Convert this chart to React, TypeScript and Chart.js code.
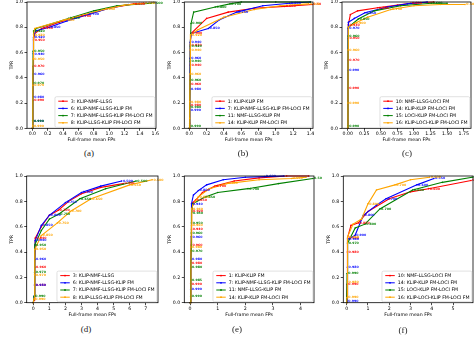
import React, { useEffect, useRef } from 'react';
import { Chart, registerables } from 'chart.js';
Chart.register(...registerables);

type Pt = [number, number, string?];

const RED = '#ff0000', BLUE = '#0000ff', GREEN = '#008000', ORANGE = '#ffa500';
const COLORS = [RED, BLUE, GREEN, ORANGE];

const Y_TICKS = [0, 0.2, 0.4, 0.6, 0.8, 1.0];
const Y_TICK_LABELS = ['0.0', '0.2', '0.4', '0.6', '0.8', '1.0'];
const X_TITLE = 'Full-frame mean FPs';
const Y_TITLE = 'TPR';

// ---------- Panel (a) ----------
const namesA = ['3: KLIP-NMF-LLSG', '6: KLIP-NMF-LLSG-KLIP FM', '7: KLIP-NMF-LLSG-KLIP FM-LOCI FM', '8: KLIP-LLSG-KLIP FM-LOCI FM'];
const xTicksA = [0, 0.2, 0.4, 0.6, 0.8, 1.0, 1.2, 1.4, 1.6];
const xTickLabelsA = ['0.0', '0.2', '0.4', '0.6', '0.8', '1.0', '1.2', '1.4', '1.6'];
const a3: Pt[] = [[0, 0], [0.004, 0.05], [0.008, 0.22, '0.990'], [0.01, 0.49, '0.970'], [0.015, 0.70, '0.950'], [0.03, 0.75], [0.12, 0.79, '0.900'], [0.35, 0.84], [0.62, 0.885, '0.700'], [1.0, 0.95], [1.32, 0.985, '0.500'], [1.45, 0.99]];
const a6: Pt[] = [[0, 0], [0.004, 0.06, '0.990'], [0.008, 0.25, '0.980'], [0.01, 0.43, '0.960'], [0.012, 0.59, '0.940'], [0.015, 0.72, '0.920'], [0.04, 0.77], [0.22, 0.80, '0.850'], [0.45, 0.85], [0.72, 0.90, '0.700'], [1.0, 0.95], [1.25, 0.98]];
const a7: Pt[] = [[0, 0], [0.004, 0.06, '0.990'], [0.008, 0.36, '0.970'], [0.01, 0.61, '0.950'], [0.015, 0.77, '0.920'], [0.05, 0.79], [0.47, 0.87, '0.750'], [0.8, 0.93], [1.1, 0.97], [1.55, 0.99, '0.500']];
const a8: Pt[] = [[0, 0], [0.004, 0.02, '0.990'], [0.008, 0.34, '0.970'], [0.01, 0.55, '0.950'], [0.015, 0.74, '0.920'], [0.03, 0.79], [0.40, 0.855, '0.800'], [0.93, 0.94, '0.650'], [1.2, 0.975], [1.45, 0.99, '0.500']];

// ---------- Panel (b) ----------
const namesB = ['1: KLIP-KLIP FM', '7: KLIP-NMF-LLSG-KLIP FM-LOCI FM', '11: NMF-LLSG-KLIP FM', '14: KLIP-KLIP FM-LOCI FM'];
const xTicksB = [0, 0.2, 0.4, 0.6, 0.8, 1.0, 1.2, 1.4];
const xTickLabelsB = ['0.0', '0.2', '0.4', '0.6', '0.8', '1.0', '1.2', '1.4'];
const b1: Pt[] = [[0, 0], [0.004, 0.04], [0.006, 0.18, '0.980'], [0.008, 0.35, '0.960'], [0.01, 0.50, '0.940'], [0.012, 0.66, '0.920'], [0.02, 0.75, '0.900'], [0.2, 0.87], [0.45, 0.92], [0.75, 0.95], [1.1, 0.965, '0.600'], [1.42, 0.98, '0.500']];
const b7: Pt[] = [[0, 0], [0.004, 0.145, '0.990'], [0.006, 0.31, '0.980'], [0.008, 0.555, '0.960'], [0.01, 0.68, '0.940'], [0.02, 0.75], [0.22, 0.79, '0.850'], [0.35, 0.86], [0.55, 0.92, '0.750'], [0.85, 0.97], [1.16, 0.99, '0.600'], [1.4, 1.0]];
const b11: Pt[] = [[0, 0], [0.004, 0.02, '0.990'], [0.006, 0.17, '0.980'], [0.008, 0.38, '0.960'], [0.01, 0.53, '0.940'], [0.012, 0.65, '0.920'], [0.02, 0.83, '0.900'], [0.05, 0.92], [0.3, 0.96, '0.800'], [0.47, 0.985, '0.700'], [0.6, 1.0], [1.0, 1.0], [1.4, 1.0]];
const b14: Pt[] = [[0, 0], [0.004, 0.08], [0.006, 0.21, '0.980'], [0.008, 0.43, '0.960'], [0.01, 0.62, '0.940'], [0.015, 0.74, '0.920'], [0.1, 0.78], [0.4, 0.88], [0.75, 0.94], [1.05, 0.97], [1.38, 0.985, '0.500']];

// ---------- Panel (c) ----------
const namesC = ['10: NMF-LLSG-LOCI FM', '14: KLIP-KLIP FM-LOCI FM', '15: LOCI-KLIP FM-LOCI FM', '16: KLIP-LOCI-KLIP FM-LOCI FM'];
const xTicksC = [0, 0.25, 0.5, 0.75, 1.0, 1.25, 1.5, 1.75];
const xTickLabelsC = ['0.00', '0.25', '0.50', '0.75', '1.00', '1.25', '1.50', '1.75'];
const c10: Pt[] = [[0, 0], [0.004, 0.32, '0.990'], [0.006, 0.54, '0.970'], [0.008, 0.71, '0.950'], [0.01, 0.82, '0.930'], [0.04, 0.9], [0.15, 0.93], [0.45, 0.955, '0.800'], [0.75, 0.975], [0.95, 0.99, '0.600'], [1.3, 1.0]];
const c14: Pt[] = [[0, 0], [0.004, 0.46, '0.990'], [0.006, 0.79, '0.970'], [0.01, 0.84], [0.1, 0.87], [0.26, 0.915, '0.850'], [0.6, 0.96], [0.9, 0.985], [1.2, 1.0]];
const c15: Pt[] = [[0, 0], [0.004, 0.02, '0.990'], [0.006, 0.73, '0.960'], [0.01, 0.80], [0.16, 0.865, '0.850'], [0.4, 0.93], [0.8, 0.97], [1.26, 0.99, '0.600'], [1.5, 0.99]];
const c16: Pt[] = [[0, 0], [0.004, 0.20, '0.990'], [0.006, 0.62, '0.960'], [0.01, 0.80], [0.1, 0.83, '0.900'], [0.3, 0.88], [0.65, 0.94, '0.750'], [1.0, 0.97], [1.4, 0.98], [1.77, 0.98, '0.500']];

// ---------- Panel (d) ----------
const xTicksD = [0, 1, 2, 3, 4, 5, 6, 7];
const xTickLabelsD = ['0', '1', '2', '3', '4', '5', '6', '7'];
const d3: Pt[] = [[0, 0], [0.05, 0.02], [0.08, 0.14, '0.980'], [0.1, 0.28, '0.960'], [0.12, 0.51, '0.940'], [0.5, 0.60], [1.0, 0.69], [1.56, 0.73, '0.700'], [2.2, 0.80], [3.0, 0.86], [4.2, 0.91], [5.6, 0.94, '0.500']];
const d6: Pt[] = [[0, 0], [0.05, 0.05], [0.08, 0.14, '0.980'], [0.1, 0.34, '0.960'], [0.12, 0.49, '0.940'], [0.5, 0.61, '0.850'], [1.0, 0.69, '0.800'], [2.0, 0.79, '0.750'], [3.0, 0.87, '0.700'], [4.2, 0.92], [5.5, 0.96, '0.500']];
const d7: Pt[] = [[0, 0], [0.05, 0.05, '0.990'], [0.08, 0.24, '0.970'], [0.1, 0.455, '0.950'], [0.5, 0.57], [1.0, 0.66], [1.6, 0.70, '0.750'], [2.9, 0.82, '0.650'], [4.5, 0.90], [6.4, 0.96, '0.500']];
const d8: Pt[] = [[0, 0], [0.05, 0.03, '0.990'], [0.08, 0.22, '0.970'], [0.1, 0.42, '0.950'], [0.5, 0.53, '0.850'], [1.5, 0.63, '0.750'], [2.3, 0.72, '0.700'], [3.6, 0.82, '0.650'], [6.0, 0.93, '0.550'], [7.4, 0.97, '0.500']];

// ---------- Panel (e) ----------
const xTicksE = [0, 1, 2, 3, 4];
const xTickLabelsE = ['0', '1', '2', '3', '4'];
const e1: Pt[] = [[0, 0], [0.02, 0.15, '0.990'], [0.03, 0.315, '0.980'], [0.04, 0.455, '0.960'], [0.05, 0.58, '0.940'], [0.06, 0.72, '0.920'], [0.1, 0.79], [0.2, 0.81, '0.850'], [0.45, 0.87], [0.9, 0.92, '0.700'], [1.6, 0.96], [2.5, 0.985], [3.5, 1.0], [4.3, 1.0]];
const e7: Pt[] = [[0, 0], [0.02, 0.105, '0.990'], [0.03, 0.34, '0.980'], [0.04, 0.52, '0.960'], [0.05, 0.78, '0.940'], [0.12, 0.85], [0.3, 0.885, '0.850'], [0.6, 0.93], [1.2, 0.97], [2.0, 0.99], [2.7, 0.995, '0.600'], [3.4, 1.0]];
const e11: Pt[] = [[0, 0], [0.02, 0.05, '0.990'], [0.025, 0.18, '0.985'], [0.03, 0.28, '0.980'], [0.035, 0.41, '0.970'], [0.04, 0.55, '0.960'], [0.05, 0.63, '0.950'], [0.06, 0.71, '0.940'], [0.1, 0.78], [0.5, 0.83, '0.850'], [1.0, 0.87], [2.1, 0.90, '0.700'], [3.2, 0.94], [4.45, 0.98, '0.500']];
const e14: Pt[] = [[0, 0], [0.03, 0.44, '0.980'], [0.05, 0.61, '0.960'], [0.06, 0.74, '0.940'], [0.1, 0.77], [0.3, 0.835, '0.850'], [0.7, 0.9], [1.32, 0.94, '0.700'], [2.5, 0.97], [3.67, 0.98, '0.550'], [4.2, 0.99]];

// ---------- Panel (f) ----------
const xTicksF = [0, 1, 2, 3, 4, 5];
const xTickLabelsF = ['0', '1', '2', '3', '4', '5'];
const f10: Pt[] = [[0, 0], [0.02, 0.145, '0.990'], [0.03, 0.40, '0.980'], [0.04, 0.51, '0.960'], [0.2, 0.61], [0.55, 0.63, '0.850'], [1.0, 0.72], [2.0, 0.82], [3.0, 0.875], [3.85, 0.90, '0.600'], [5.85, 0.965, '0.500']];
const f14: Pt[] = [[0, 0], [0.02, 0.01, '0.990'], [0.03, 0.28, '0.980'], [0.05, 0.50, '0.960'], [0.39, 0.53, '0.900'], [0.78, 0.69, '0.800'], [1.4, 0.77], [1.85, 0.82, '0.700'], [3.3, 0.93, '0.600'], [4.1, 0.98, '0.550']];
const f15: Pt[] = [[0, 0], [0.02, 0.23, '0.990'], [0.04, 0.47, '0.970'], [0.4, 0.59], [0.86, 0.62, '0.800'], [1.56, 0.74, '0.700'], [3.1, 0.89, '0.600'], [4.5, 0.95], [5.9, 0.99, '0.500']];
const f16: Pt[] = [[0, 0], [0.02, 0.04, '0.990'], [0.03, 0.165, '0.980'], [0.05, 0.52, '0.960'], [0.3, 0.62], [0.7, 0.66], [1.0, 0.78, '0.800'], [1.4, 0.89], [2.27, 0.93, '0.700'], [3.0, 0.97], [3.9, 0.99, '0.600']];

interface PanelDef {
  plotL: number; plotT: number; plotR: number; plotB: number;
  xMin: number; xMax: number; xTicks: number[]; xTickLabels: string[];
  series: Pt[][]; names: string[];
  caption: string; capX: number; capY: number;
}

const PANELS: PanelDef[] = [
  { plotL: 27, plotT: 2, plotR: 156, plotB: 128.3, xMin: -0.07, xMax: 1.61, xTicks: xTicksA, xTickLabels: xTickLabelsA, series: [a3, a6, a7, a8], names: namesA, caption: '(a)', capX: 89, capY: 153 },
  { plotL: 184.3, plotT: 2, plotR: 313, plotB: 128.3, xMin: -0.058, xMax: 1.43, xTicks: xTicksB, xTickLabels: xTickLabelsB, series: [b1, b7, b11, b14], names: namesB, caption: '(b)', capX: 243, capY: 153 },
  { plotL: 342, plotT: 2, plotR: 471, plotB: 128.3, xMin: -0.086, xMax: 1.86, xTicks: xTicksC, xTickLabels: xTickLabelsC, series: [c10, c14, c15, c16], names: namesC, caption: '(c)', capX: 407, capY: 153 },
  { plotL: 26.7, plotT: 176, plotR: 158, plotB: 302.7, xMin: -0.41, xMax: 7.76, xTicks: xTicksD, xTickLabels: xTickLabelsD, series: [d3, d6, d7, d8], names: namesA, caption: '(d)', capX: 86, capY: 329 },
  { plotL: 184.3, plotT: 176, plotR: 314, plotB: 302.7, xMin: -0.21, xMax: 4.49, xTicks: xTicksE, xTickLabels: xTickLabelsE, series: [e1, e7, e11, e14], names: namesB, caption: '(e)', capX: 237, capY: 329 },
  { plotL: 343.3, plotT: 176, plotR: 473, plotB: 302.7, xMin: -0.16, xMax: 5.94, xTicks: xTicksF, xTickLabels: xTickLabelsF, series: [f10, f14, f15, f16], names: namesC, caption: '(f)', capX: 403, capY: 330 },
];

const FONT = 'DejaVu Sans';
const FS = 4.7;
const Y_W = 24, X_H = 18, PAD_T = 4, PAD_R = 8;

function Panel({ p }: { p: PanelDef }) {
  const ref = useRef<HTMLCanvasElement>(null);
  const cLeft = Math.floor(p.plotL) - Y_W;
  const cTop = Math.floor(p.plotT) - PAD_T;
  const W = Math.ceil(p.plotR) + PAD_R - cLeft;
  const H = Math.ceil(p.plotB) + X_H - cTop;
  const yW = p.plotL - cLeft;
  const padT = p.plotT - cTop;
  const padR = cLeft + W - p.plotR;
  const xH = cTop + H - p.plotB;

  useEffect(() => {
    if (!ref.current) return;
    const decor = {
      id: 'decor',
      afterDatasetsDraw(chart: any) {
        const ctx = chart.ctx as CanvasRenderingContext2D;
        const ca = chart.chartArea;
        const xs = chart.scales.x, ys = chart.scales.y;
        ctx.save();
        // point annotations
        ctx.font = `bold 3.2px "${FONT}"`;
        ctx.textBaseline = 'middle';
        ctx.textAlign = 'left';
        p.series.forEach((s, i) => {
          ctx.fillStyle = COLORS[i];
          s.forEach((pt) => {
            if (pt[2]) {
              const px = xs.getPixelForValue(pt[0]);
              const py = ys.getPixelForValue(pt[1]);
              ctx.fillText(pt[2], px + 1.2, py);
            }
          });
        });
        // frame
        ctx.strokeStyle = '#000';
        ctx.lineWidth = 0.8;
        ctx.strokeRect(ca.left, ca.top, ca.right - ca.left, ca.bottom - ca.top);
        // legend
        ctx.font = `${FS}px "${FONT}"`;
        const tw = Math.max(...p.names.map((n) => ctx.measureText(n).width));
        const padX = 3.3, handle = 9.5, gap = 3, pitch = 7.2, padY = 0.9;
        const bw = padX + handle + gap + tw + 2.2;
        const bh = pitch * p.names.length + padY * 2;
        const bx = ca.right - 1.2 - bw, by = ca.bottom - 1.0 - bh;
        ctx.beginPath();
        ctx.roundRect(bx, by, bw, bh, 1.5);
        ctx.fillStyle = 'rgba(255,255,255,0.85)';
        ctx.fill();
        ctx.strokeStyle = '#cccccc';
        ctx.lineWidth = 0.6;
        ctx.stroke();
        p.names.forEach((n, i) => {
          const cy = by + padY + pitch * (i + 0.5);
          ctx.strokeStyle = COLORS[i];
          ctx.lineWidth = 1;
          ctx.beginPath();
          ctx.moveTo(bx + padX, cy);
          ctx.lineTo(bx + padX + handle, cy);
          ctx.stroke();
          ctx.fillStyle = COLORS[i];
          ctx.beginPath();
          ctx.arc(bx + padX + handle / 2, cy, 0.9, 0, Math.PI * 2);
          ctx.fill();
          ctx.fillStyle = '#000';
          ctx.textAlign = 'left';
          ctx.textBaseline = 'middle';
          ctx.fillText(n, bx + padX + handle + gap, cy + 0.2);
        });
        // axis titles
        ctx.fillStyle = '#000';
        ctx.font = `${FS}px "${FONT}"`;
        ctx.textAlign = 'center';
        ctx.textBaseline = 'middle';
        ctx.fillText(X_TITLE, (ca.left + ca.right) / 2, ca.bottom + 11.7);
        ctx.translate(ca.left - 15, (ca.top + ca.bottom) / 2);
        ctx.rotate(-Math.PI / 2);
        ctx.fillText(Y_TITLE, 0, 0);
        ctx.restore();
      },
    };

    const chart = new Chart(ref.current, {
      type: 'line',
      data: {
        datasets: p.series.map((s, i) => ({
          label: p.names[i],
          data: s.map((pt) => ({ x: pt[0], y: pt[1] })),
          borderColor: COLORS[i],
          backgroundColor: COLORS[i],
          borderWidth: 1.1,
          pointRadius: 0.8,
          pointBorderWidth: 0,
          pointHoverRadius: 0,
          tension: 0,
          order: 3 - i,
          clip: 3,
        })),
      },
      options: {
        animation: false,
        responsive: false,
        devicePixelRatio: 1,
        events: [],
        layout: { padding: { left: 0, top: padT, right: padR, bottom: 0 } },
        plugins: { legend: { display: false }, tooltip: { enabled: false } },
        scales: {
          x: {
            type: 'linear',
            position: 'bottom',
            min: p.xMin,
            max: p.xMax,
            afterBuildTicks: (s: any) => { s.ticks = p.xTicks.map((v) => ({ value: v })); },
            afterFit: (s: any) => { s.height = xH; s.paddingLeft = 0; s.paddingRight = 0; },
            ticks: {
              autoSkip: false, maxRotation: 0, minRotation: 0, padding: 0.5,
              color: '#000', font: { family: FONT, size: FS },
              callback: (_v: any, i: number) => p.xTickLabels[i],
            },
            grid: { display: true, drawOnChartArea: false, drawTicks: true, tickLength: 2.5, color: '#000', lineWidth: 0.7 },
            border: { display: false },
          },
          y: {
            type: 'linear',
            position: 'left',
            min: 0,
            max: 1,
            afterBuildTicks: (s: any) => { s.ticks = Y_TICKS.map((v) => ({ value: v })); },
            afterFit: (s: any) => { s.width = yW; s.paddingTop = 0; s.paddingBottom = 0; },
            ticks: {
              autoSkip: false, padding: 1.5,
              color: '#000', font: { family: FONT, size: FS },
              callback: (_v: any, i: number) => Y_TICK_LABELS[i],
            },
            grid: { display: true, drawOnChartArea: false, drawTicks: true, tickLength: 2.5, color: '#000', lineWidth: 0.7 },
            border: { display: false },
          },
        },
      } as any,
      plugins: [decor],
    });
    return () => chart.destroy();
  }, []);

  return (
    <>
      <canvas
        ref={ref}
        width={W}
        height={H}
        style={{ position: 'absolute', left: cLeft, top: cTop, width: W, height: H }}
      />
      <div
        style={{
          position: 'absolute', left: p.capX, top: p.capY, transform: 'translate(-50%, -50%)',
          fontFamily: '"Liberation Serif", serif', fontSize: 9, color: '#222', whiteSpace: 'nowrap',
        }}
      >
        {p.caption}
      </div>
    </>
  );
}

export default function App() {
  return (
    <div style={{ position: 'absolute', left: 0, top: 0, width: 474, height: 345, overflow: 'hidden', background: '#fff' }}>
      {PANELS.map((p, i) => (
        <Panel key={i} p={p} />
      ))}
    </div>
  );
}
